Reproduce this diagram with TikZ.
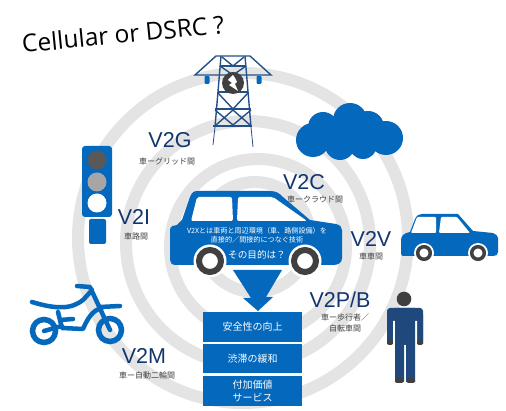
\documentclass[tikz,border=0pt]{standalone}
\usepackage{fontspec}
\setmainfont{Open Sans}
\newfontfamily\cjk{Noto Sans CJK JP}
\newfontfamily\lsans{Liberation Sans}
\definecolor{cblue}{HTML}{0468BD}
\definecolor{navy}{HTML}{12356F}
\definecolor{ring}{HTML}{E4E4E4}
\definecolor{tower}{HTML}{245089}
\definecolor{manblue}{HTML}{1F497D}
\definecolor{dgray}{HTML}{404040}
\tikzset{
  ringline/.style={draw=ring,line width=12pt,fill=none},
  vlabel/.style={inner sep=0pt,text=navy,font=\lsans\fontsize{21.5}{21.5}\selectfont},
  jlabel/.style={inner sep=0pt,text=black!75,font=\cjk\fontsize{8}{10.5}\selectfont,align=center},
  boxb/.style={fill=cblue,draw=none,minimum width=99pt,minimum height=30pt,inner sep=0pt,text=white,font=\cjk\fontsize{10}{13.5}\selectfont,align=center},
  wtext/.style={inner sep=0pt,text=white,font=\cjk\fontsize{7.1}{9.5}\selectfont,align=center},
  towerline/.style={draw=tower,line width=1.4pt}
}
\begin{document}
\begin{tikzpicture}[x=1pt,y=-1pt]
\useasboundingbox (0,0) rectangle (506,411);
\begin{scope}
\clip (0,0) rectangle (506,411);
\draw[ringline] (243,238) circle (165);
\draw[ringline] (248,243) circle (122);
\draw[ringline] (258,247) circle (88);
\draw[ringline] (255,237) circle (55);
\end{scope}
\node[inner sep=0pt,rotate=5.6,font=\fontsize{24.5}{24.5}\selectfont,text=black] (title) at (123,34) {Cellular or DSRC ?};
% tower
\draw[towerline] (195,75) -- (271,75) -- (250,56) -- (216,56) -- cycle;
\draw[towerline] (221,56) -- (215,127) (245,56) -- (251,127);
\draw[towerline] (218,92) -- (248,92) (215,109) -- (251,109) (213,126) -- (252,126) (220,66)--(246,66);
\draw[towerline] (222,57) -- (233,66) -- (244,57) (220,66)--(233,75)--(246,66)
 (218,93)--(233,109)--(248,93) (215,110)--(233,125)--(251,110) (216,125)--(233,110)--(250,125);
\draw[draw=tower,line width=.8pt] (215,127)--(213,145) (251,127)--(253,147);
\fill[cblue,rounded corners=1pt] (204.5,76) rectangle (209.5,84);
\fill[cblue,rounded corners=1pt] (256.5,76) rectangle (261.5,84);
\fill[dgray] (233,83) circle (11);
\fill[white] (233,75) -- (228,80) -- (232,83) -- (229,85) -- (238,91) -- (235,84) -- (237,82) -- (235,78)-- cycle;
% cloud
\fill[cblue] (313,140) circle (17) (323,127) circle (15) (350,120) circle (17) (368,127) circle (16) (386,138) circle (17) (340,145) circle (15) (363,145) circle (14) (350,135) circle (14);
% traffic light
\fill[cblue,rounded corners=3pt] (82,146) rectangle (112,217);
\fill[cblue,rounded corners=2pt] (89,219) rectangle (106,244);
\fill[black!65] (97,160) circle (9.5);
\fill[black!35] (97,182) circle (9.5);
\fill[white] (97,203) circle (9.5);
% motorbike
\draw[cblue,line width=5.5pt] (44,331) circle (11.5) (110,330) circle (11.5);
\draw[cblue,line width=4.5pt,line cap=round,line join=round] (32,302) .. controls (55,309) and (72,310) .. (84,299) -- (92,290) (77,286) -- (90,287) -- (110,330) (100,307) -- (120,306) (44,331) -- (62,326) (58,312) -- (62,328) -- (83,329) .. controls (87,320) and (92,310) .. (102,308) (60,320) -- (73,319);
% center car
\fill[cblue] (170,230) .. controls (170,226) and (174,225) .. (177,225) -- (182,220) -- (190,197) .. controls (192,192) and (194,191) .. (198,191) -- (270,191) .. controls (276,191) and (279,193) .. (283,197) -- (310,220) -- (336,224) .. controls (340,225) and (342,227) .. (342,230) -- (342,258) .. controls (342,263) and (338,265) .. (333,265) -- (176,265) .. controls (172,265) and (170,263) .. (170,260) -- cycle;
\fill[white,rounded corners=2pt] (191,221) -- (197,197) -- (232,197) -- (233,221) -- cycle;
\fill[white,rounded corners=2pt] (237,221) -- (238,197) -- (273,197) -- (307,221) -- cycle;
\fill[white] (210,261) circle (16.5);
\fill[white] (305,261) circle (16.5);
\draw[dgray,line width=6pt] (210,261) circle (11) (305,261) circle (11);
\node[wtext] (cartext) at (257,235.5) {V2Xとは車両と周辺環境（車、路側設備）を\\直接的／間接的につなぐ技術};
\node[inner sep=0pt,text=white,font=\cjk\fontsize{9.6}{10}\selectfont] (q) at (257,255) {その目的は？};
\fill[cblue] (233,270) -- (282,270) -- (266,297) -- (273,297) -- (258,311) -- (243,298) -- (251,298) -- cycle;
% boxes
\node[boxb] (b1) at (252.5,327) {安全性の向上};
\node[boxb,minimum height=29pt] (b2) at (252.5,358.5) {渋滞の緩和};
\node[boxb] (b3) at (252.5,391) {付加価値\\サービス};
% small car
\fill[cblue] (401,240) .. controls (401,236) and (404,233) .. (410,232) -- (415,219) .. controls (417,215) and (419,214) .. (422,214) -- (458,214) -- (473,231) -- (493,233) .. controls (496,234) and (498,236) .. (498,238) -- (498,252) .. controls (498,255) and (496,256) .. (493,256) -- (403,256) .. controls (402,256) and (401,255) .. (401,253) -- cycle;
\fill[white,rounded corners=1pt] (411,233) -- (417,217) -- (436,217) -- (436,233) -- cycle;
\fill[white,rounded corners=1pt] (439,233) -- (441,217) -- (457,217) -- (470,233) -- cycle;
\fill[white] (424,253) circle (10) (478,253) circle (10);
\draw[dgray,line width=3.5pt] (424,253) circle (6.3) (478,253) circle (6.3);
% person
\fill[dgray] (404,299) circle (7.3);
\fill[manblue,rounded corners=3pt] (387,308) rectangle (423,344);
\fill[manblue] (387,315) rectangle (393,344) (417,315) rectangle (423,344);
\fill[white] (393,321) rectangle (395,345) (415,321) rectangle (417,345);
\fill[manblue] (395,308) rectangle (415,345) (395,345) rectangle (404,382) (406,345) rectangle (415,382);
\fill[dgray,rounded corners=2pt] (387,340) rectangle (393,345) (417,340) rectangle (423,345) (395,378) rectangle (403.5,383) (406.5,378) rectangle (415,383);
% labels
\node[vlabel] (g) at (170,140) {V2G};
\node[jlabel] (gj) at (167,161) {車ーグリッド間};
\node[vlabel] (c) at (304,182) {V2C};
\node[jlabel] (cj) at (315,199) {車ークラウド間};
\node[vlabel] (i) at (134,217) {V2I};
\node[jlabel] (ij) at (136,236) {車路間};
\node[vlabel] (v) at (371,239) {V2V};
\node[jlabel] (vj) at (371,256) {車車間};
\node[vlabel] (p) at (340,300) {V2P/B};
\node[jlabel] (pj) at (345,323) {車ー歩行者／\\自転車間};
\node[vlabel] (m) at (144,356) {V2M};
\node[jlabel] (mj) at (147,375) {車ー自動二輪間};
\end{tikzpicture}
\end{document}
